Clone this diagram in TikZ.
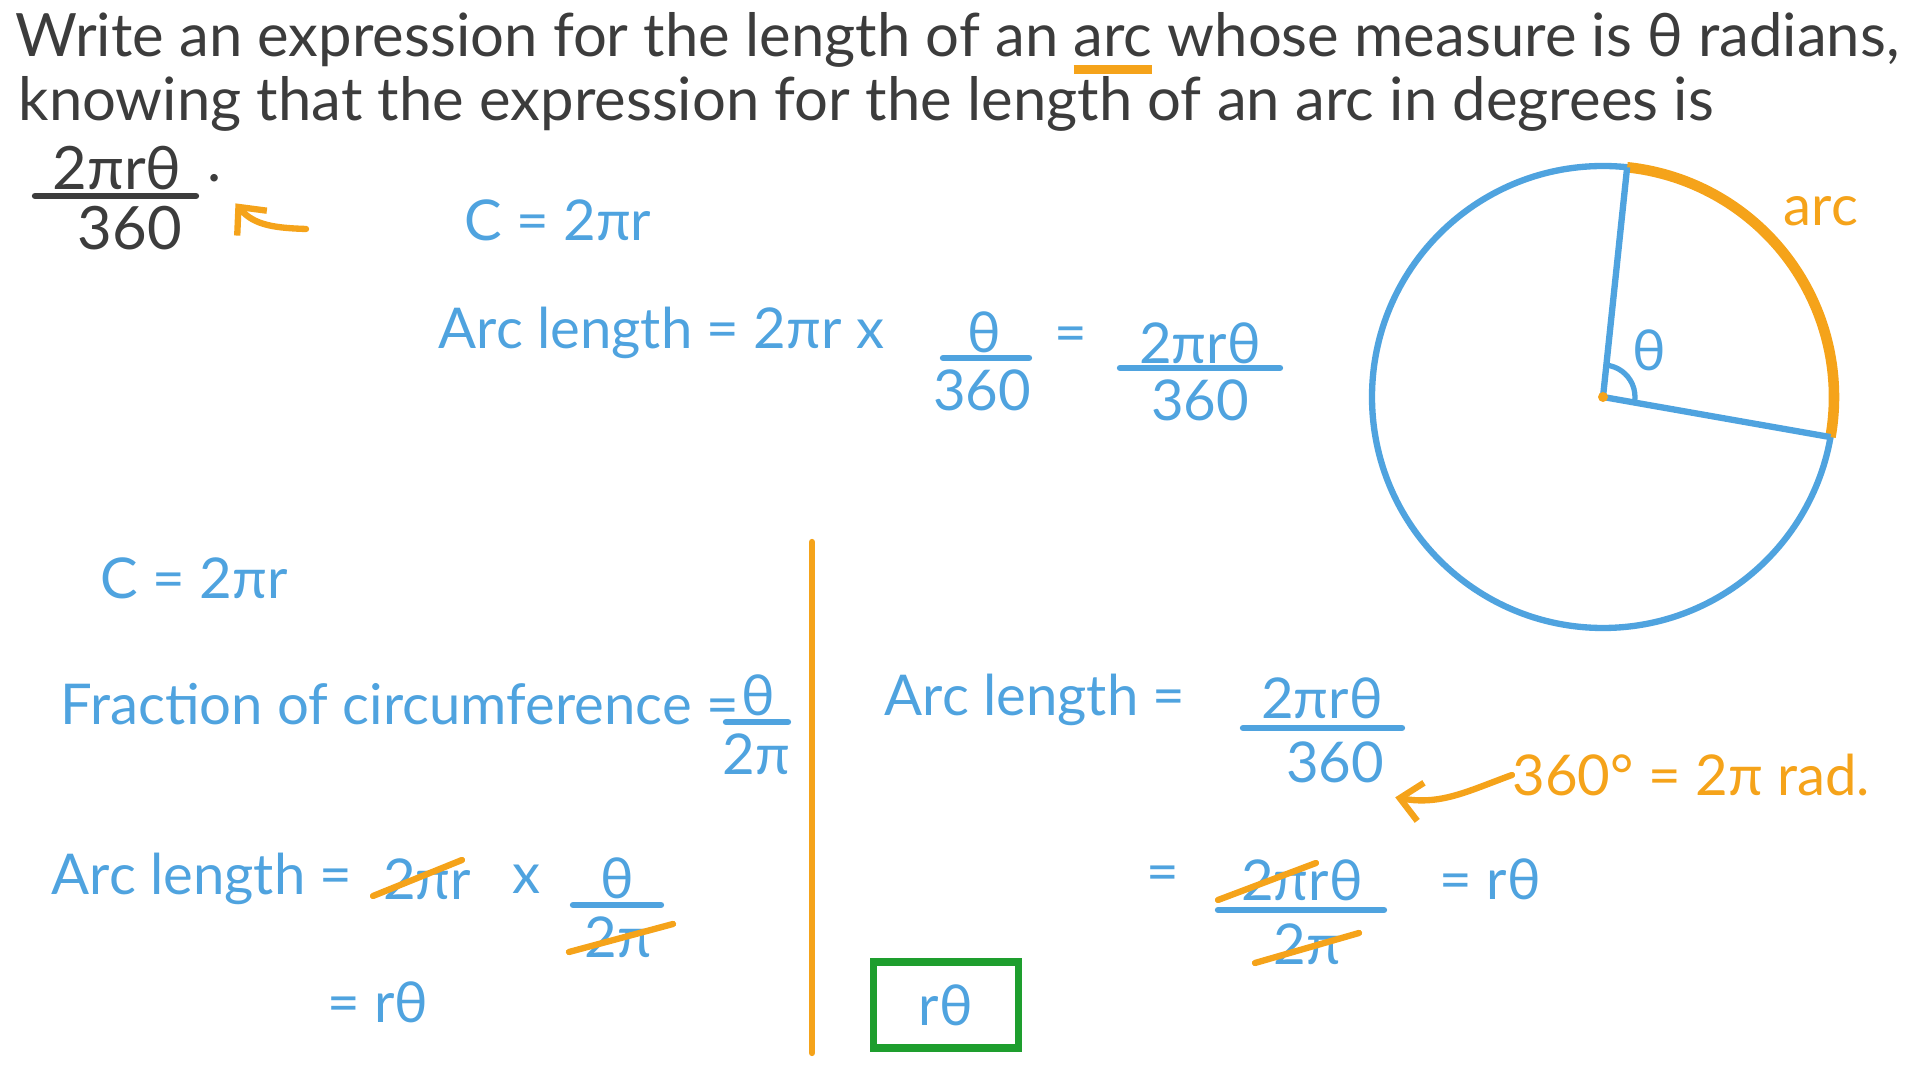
\documentclass[tikz,border=0pt]{standalone}
\usepackage{fontspec}
\setmainfont{Lato}
\usetikzlibrary{arrows.meta}

\definecolor{inkblue}{HTML}{4FA3DF}
\definecolor{inkorange}{HTML}{F5A31A}
\definecolor{inkgrey}{HTML}{3C3C3C}
\definecolor{inkgreen}{HTML}{1E9E2E}

\newcommand{\arcmark}[1]{\setbox0\hbox{#1}\rlap{\color{inkorange}\rule[-5pt]{\wd0}{2.6pt}}#1}

\tikzset{
  hand/.style={inner sep=0pt, font=\fontsize{16}{18}\selectfont},
  question/.style={hand, text=inkgrey, font=\fontsize{17}{19}\selectfont},
  working/.style={hand, text=inkblue},
  note/.style={hand, text=inkorange},
  fracbar/.style={line width=1.8pt, line cap=round},
  strike/.style={inkorange, line width=1.8pt, line cap=round},
  pointer/.style={inkorange, line width=1.8pt, line cap=round, -{Straight Barb[length=6pt, width=11pt, line width=1.8pt]}}
}

\begin{document}
\begin{tikzpicture}[x=0.01cm, y=0.01cm]
    \useasboundingbox (0,0) rectangle (1920,-1080);

    \node[question, anchor=west] (qline1) at (15,-43)
      {Write an expression for the length of an \arcmark{arc} whose measure is θ radians,};
    \node[question, anchor=west] (qline2) at (18,-104)
      {knowing that the expression for the length of an arc in degrees is};
    \node[question] (degnum) at (117,-168) {2πrθ};
    \node[question] (degden) at (130,-228) {360};
    \node[question, anchor=west] (degdot) at (207,-178) {.};
    \draw[fracbar, inkgrey] (35,-196) -- (196,-196);
    \coordinate (degtail) at (306,-229);
    \draw[pointer] (degtail) to[out=178, in=-50] ([xshift=15pt, yshift=7pt]degden.east);

    \node[working] (circtop) at (558,-220) {C = 2πr};
    \node[working, anchor=west] (arctop) at (438,-333) {Arc length = 2πr x};
    \node[working] (topthnum) at (984,-332) {θ};
    \draw[fracbar, inkblue] (943,-358) -- (1029,-358);
    \node[working] (topthden) at (982,-390) {360};
    \node[working] (topeq) at (1071,-340) {=};
    \node[working] (topresnum) at (1200,-343) {2πrθ};
    \draw[fracbar, inkblue] (1120,-368) -- (1280,-368);
    \node[working] (topresden) at (1200,-400) {360};

    \draw[inkblue, line width=1.8pt] (1603,-397) circle (231);
    \draw[inkorange, line width=3pt] (1603,-397) ++(-10:231) arc (-10:84:231);
    \draw[inkblue, line width=1.8pt] (1603,-397) ++(84:231) -- (1603,-397) -- ++(-10:231);
    \draw[inkblue, line width=1.5pt] (1603,-397) ++(84:32) arc (84:-10:32);
    \fill[inkorange] (1603,-397) circle (5);
    \node[working] (anglelabel) at (1649,-350) {θ};
    \node[note] (arclabel) at (1821,-211) {arc};

    \draw[inkorange, line width=1.8pt, line cap=round] (812,-542) -- (812,-1053);

    \node[working, anchor=west] (circleft) at (100,-578) {C = 2πr};
    \node[working, anchor=west] (fraction) at (60,-704) {Fraction of circumference =};
    \node[working] (fracnum) at (758,-695) {θ};
    \draw[fracbar, inkblue] (726,-722) -- (788,-722);
    \node[working] (fracden) at (756,-754) {2π};

    \node[working, anchor=west] (arcleft) at (51,-879) {Arc length =};
    \node[working] (leftfactor) at (427,-879) {2πr};
    \node[working] (lefttimes) at (527,-879) {x};
    \node[working] (leftnum) at (617,-878) {θ};
    \draw[fracbar, inkblue] (573,-905) -- (661,-905);
    \node[working] (leftden) at (618,-937) {2π};
    \draw[strike] (373,-896) -- (462,-860);
    \draw[strike] (569,-952) -- (673,-924);
    \node[working] (leftres) at (378,-1002) {= rθ};

    \node[working, anchor=west] (arcright) at (884,-700) {Arc length =};
    \node[working] (rightnum) at (1322,-698) {2πrθ};
    \draw[fracbar, inkblue] (1243,-728) -- (1402,-728);
    \node[working] (rightden) at (1335,-762) {360};
    \node[note, anchor=west] (radnote) at (1512,-775) {360° = 2π rad.};
    \draw[pointer] (radnote.west) to[out=200, in=-10] ([xshift=3pt, yshift=-4pt]rightden.south east);

    \node[working] (righteq) at (1163,-879) {=};
    \node[working] (cancelnum) at (1302,-880) {2πrθ};
    \draw[fracbar, inkblue] (1218,-910) -- (1384,-910);
    \node[working] (cancelden) at (1307,-944) {2π};
    \draw[strike] (1218,-900) -- (1316,-863);
    \draw[strike] (1255,-963) -- (1359,-933);
    \node[working, anchor=west] (rightres) at (1439,-879) {= rθ};

    \node[working, draw=inkgreen, line width=2pt, minimum width=145*0.01cm, minimum height=86*0.01cm] (answer) at (946,-1005) {rθ};
\end{tikzpicture}
\end{document}
